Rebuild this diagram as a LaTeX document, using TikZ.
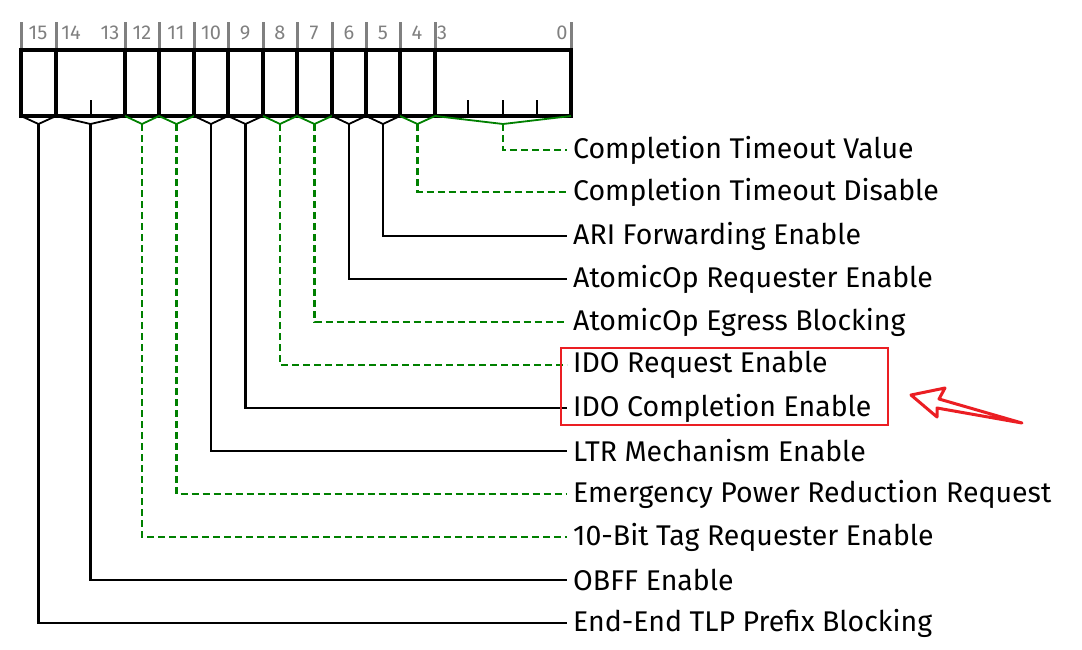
\documentclass[tikz,border=0pt]{standalone}
\usepackage{fontspec}
\setmainfont{Fira Sans}
\definecolor{fgreen}{RGB}{0,128,0}
\definecolor{fred}{RGB}{235,30,35}
\begin{document}
\begin{tikzpicture}[x=1pt,y=-1pt,
  lbl/.style={anchor=west,inner sep=0pt,font=\fontsize{28.5}{32}\selectfont},
  num/.style={text=gray,font=\fontsize{20}{24}\selectfont,inner sep=0pt},
  blk/.style={line width=2.5pt,black},
  grn/.style={line width=2.5pt,fgreen,dash pattern=on 7pt off 4pt},
  brc/.style={line width=1.8pt}]
\useasboundingbox (0,0) rectangle (1082,649);
% register box
\foreach \x in {21,56,125,159,194,228,263,297,332,366,400,435,571}
  \draw[gray,line width=3pt] (\x,22) -- (\x,50);
\draw[line width=4pt] (21,50) rectangle (571,116);
\foreach \x in {56,125,159,194,228,263,297,332,366,400,435}
  \draw[line width=4pt] (\x,50) -- (\x,116);
\foreach \x in {91,468,503,537}
  \draw[line width=2.5pt] (\x,100) -- (\x,116);
% bit numbers
\foreach \t/\x in {15/38,14/71,13/110,12/142,11/176,10/211,9/245,8/280,7/314,6/349,5/383,4/417,3/442,0/562}
  \node[num] (n\t) at (\x,33) {\t};
% braces
\foreach \l/\r/\n/\c in {21/56/a/black,56/125/b/black,125/159/c/fgreen,159/194/d/fgreen,194/228/e/black,228/263/f/black,263/297/g/fgreen,297/332/h/fgreen,332/366/i/black,366/400/j/black,400/435/k/fgreen,435/571/l/fgreen}{
  \coordinate (\n) at ({(\l+\r)/2},124);
  \draw[brc,\c] (\l,116) -- (\n) -- (\r,116);
}
% labels
\node[lbl] (t0) at (573,150) {Completion Timeout Value};
\node[lbl] (t1) at (573,192) {Completion Timeout Disable};
\node[lbl] (t2) at (573,236) {ARI Forwarding Enable};
\node[lbl] (t3) at (573,279) {AtomicOp Requester Enable};
\node[lbl] (t4) at (573,322) {AtomicOp Egress Blocking};
\node[lbl] (t5) at (573,365) {IDO Request Enable};
\node[lbl] (t6) at (573,408) {IDO Completion Enable};
\node[lbl] (t7) at (573,451) {LTR Mechanism Enable};
\node[lbl] (t8) at (573,494) {Emergency Power Reduction Request};
\node[lbl] (t9) at (573,537) {10-Bit Tag Requester Enable};
\node[lbl] (t10) at (573,580) {OBFF Enable};
\node[lbl] (t11) at (573,623) {End-End TLP Prefix Blocking};
% connectors
\draw[grn] (l) |- ([xshift=-6pt]t0.west);
\draw[grn] (k) |- ([xshift=-6pt]t1.west);
\draw[blk] (j) |- ([xshift=-6pt]t2.west);
\draw[blk] (i) |- ([xshift=-6pt]t3.west);
\draw[grn] (h) |- ([xshift=-6pt]t4.west);
\draw[grn] (g) |- ([xshift=-6pt]t5.west);
\draw[blk] (f) |- ([xshift=-6pt]t6.west);
\draw[blk] (e) |- ([xshift=-6pt]t7.west);
\draw[grn] (d) |- ([xshift=-6pt]t8.west);
\draw[grn] (c) |- ([xshift=-6pt]t9.west);
\draw[blk] (b) |- ([xshift=-6pt]t10.west);
\draw[blk] (a) |- ([xshift=-6pt]t11.west);
% highlight
\draw[fred,line width=2.5pt] (561,348) rectangle (888,425);
\draw[fred,line width=3pt,line join=round]
  (911,395) -- (945,388) -- (939,399) -- (1022,423) -- (937,408) -- (937,417) -- cycle;
\end{tikzpicture}
\end{document}
